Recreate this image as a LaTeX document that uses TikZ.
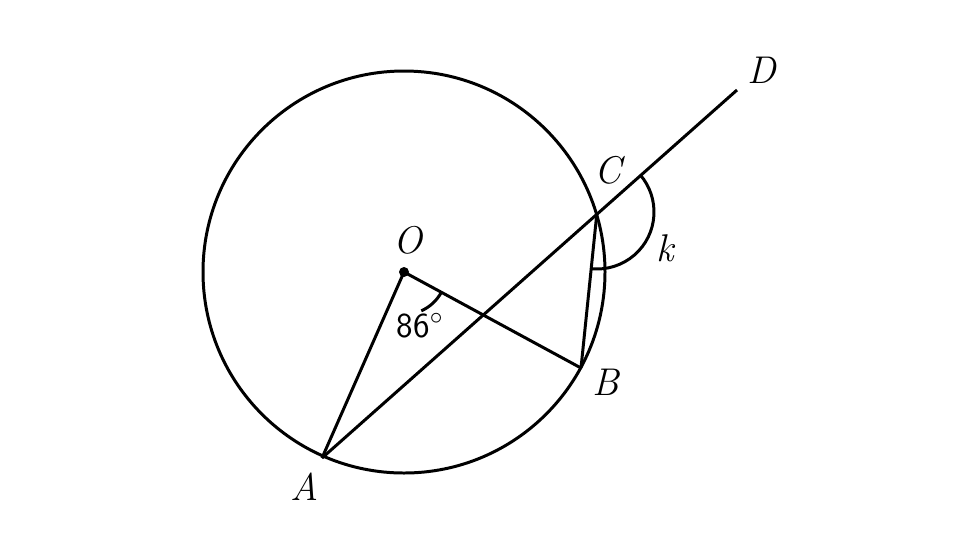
\documentclass[tikz,border=0pt]{standalone}
\begin{document}
\begin{tikzpicture}[x=0.02cm,y=-0.02cm,line width=1.7pt,
  lab/.style={font=\fontsize{22}{26}\selectfont\itshape}]
\useasboundingbox (0,0) rectangle (976,549);
\coordinate (O) at (404,272);
\coordinate (A) at (322,458);
\coordinate (B) at (581,368);
\coordinate (C) at (597,212);
\coordinate (D) at (737,90);
\draw (O) circle [radius=201*0.02cm];
\draw (A) -- (D);
\draw (O) -- (A);
\draw (O) -- (B);
\draw (C) -- (B);
\fill (O) circle [radius=0.1cm];
\draw ([shift={(-66:0.85cm)}]O) arc[start angle=-66,end angle=-28.5,radius=0.85cm];
\draw ([shift={(41:1.14cm)}]C) arc[start angle=41,end angle=-96,radius=1.14cm];
\node[lab] (lO) at (408,240) {O};
\node[lab] (lA) at (305,487) {A};
\node[lab] (lB) at (606,382) {B};
\node[lab] (lC) at (608,170) {C};
\node[lab] (lD) at (762,70) {D};
\node[lab] (lk) at (665,248) {k};
\node[font=\fontsize{20}{24}\selectfont\sffamily] (a) at (420,326) {86$^\circ$};
\end{tikzpicture}
\end{document}
